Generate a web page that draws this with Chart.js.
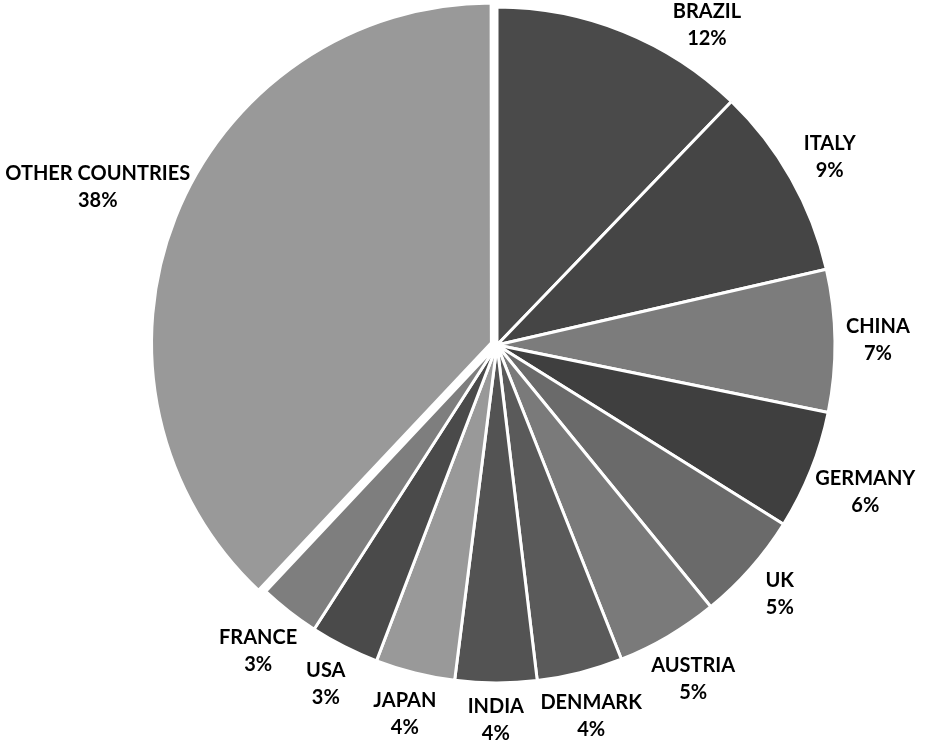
<!DOCTYPE html>
<html>
<head>
<meta charset="utf-8">
<script src="https://cdn.jsdelivr.net/npm/chart.js@4"></script>
<style>
  html, body { margin: 0; padding: 0; background: #fff; }
  #wrap { width: 928px; height: 746px; }
</style>
</head>
<body>
<div id="wrap"><canvas id="pieChart"></canvas></div>
<script>
// data (share of slice, in %)
const countries = ['BRAZIL', 'ITALY', 'CHINA', 'GERMANY', 'UK', 'AUSTRIA', 'DENMARK', 'INDIA', 'JAPAN', 'USA', 'FRANCE', 'OTHER COUNTRIES'];
const shares = [12.2, 9.2, 6.8, 5.7, 5.2, 4.9, 4.1, 3.9, 3.8, 3.3, 2.9, 38.0];
const shareLabels = ['12%', '9%', '7%', '6%', '5%', '5%', '4%', '4%', '4%', '3%', '3%', '38%'];

const sliceColors = ['#4a4a4a', '#454545', '#7c7c7c', '#3f3f3f', '#6a6a6a', '#7a7a7a', '#5a5a5a', '#535353', '#999999', '#4a4a4a', '#7e7e7e', '#999999'];

const labelFont = 'bold 20px Lato, "DejaVu Sans", sans-serif';
const lineH = 27;

// pulled-out slice (chart.js draws offset / 4)
function sliceOffset(c) {
  return c.dataIndex === countries.length - 1 ? 24 : 0;
}

// labels outside each slice, on the bisector
const outsideLabels = {
  id: 'outsideLabels',
  afterDatasetsDraw(chart) {
    const ctx = chart.ctx;
    const meta = chart.getDatasetMeta(0);
    ctx.save();
    ctx.font = labelFont;
    ctx.fillStyle = '#000';
    ctx.textAlign = 'center';
    ctx.textBaseline = 'middle';
    meta.data.forEach((arc, i) => {
      const p = arc.getProps(['x', 'y', 'startAngle', 'endAngle', 'outerRadius'], true);
      const mid = (p.startAngle + p.endAngle) / 2;
      const w = Math.max(ctx.measureText(countries[i]).width, ctx.measureText(shareLabels[i]).width);
      const h = lineH;
      const cx = Math.cos(mid), cy = Math.sin(mid);
      const off = (arc.options.offset || 0) / 4;
      let d = p.outerRadius + off + 21 + 0.68 * Math.abs(cx) * w / 2 + 0.6 * Math.abs(cy) * h;
      let lx = p.x + cx * d;
      let ly = p.y + cy * d;
      // keep inside the canvas: slide along the circle
      const minY = h - 2;
      if (ly < minY) {
        const a = Math.acos((p.y - minY) / d);
        lx = p.x + Math.sign(cx) * Math.sin(a) * d;
        ly = minY;
      }
      ctx.fillText(countries[i], lx, ly - lineH / 2);
      ctx.fillText(shareLabels[i], lx, ly + lineH / 2);
    });
    ctx.restore();
  }
};

const ctx = document.getElementById('pieChart').getContext('2d');
new Chart(ctx, {
  type: 'pie',
  data: {
    labels: countries,
    datasets: [{
      data: shares,
      backgroundColor: sliceColors,
      borderColor: '#ffffff',
      borderWidth: 3,
      offset: sliceOffset
    }]
  },
  options: {
    responsive: true,
    maintainAspectRatio: false,
    animation: false,
    radius: 338,
    layout: { padding: { left: 100, right: 34, top: 0, bottom: 56 } },
    plugins: {
      legend: { display: false },
      tooltip: { enabled: false }
    }
  },
  plugins: [outsideLabels]
});
</script>
</body>
</html>
